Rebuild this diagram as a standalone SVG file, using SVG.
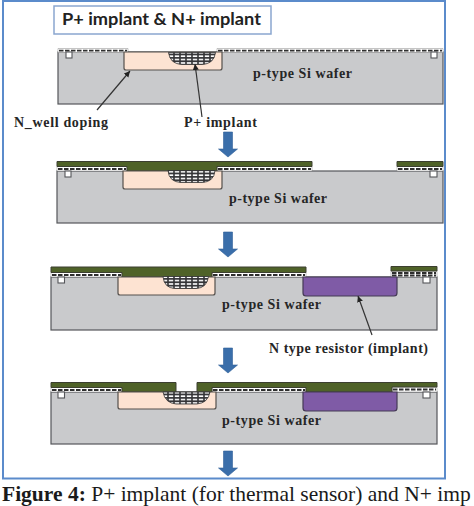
<svg xmlns="http://www.w3.org/2000/svg" width="474" height="506" viewBox="0 0 474 506">
<style>
.sub{fill:#c9cacc;stroke:#55565a;stroke-width:1.2}
.well{fill:#fde3d2;stroke:#55504c;stroke-width:1.2}
.res{fill:#7f5ba6;stroke:#453a55;stroke-width:1.2}
.ox{fill:#fff;stroke:#8a8a8a;stroke-width:.5}
.dash{fill:none;stroke:#2e2e2e;stroke-width:1.8;stroke-dasharray:4.500 1.500}
.gr{fill:#4f6228;stroke:#3c3f30;stroke-width:1}
.sq{fill:#fff;stroke:#55565a;stroke-width:1.1}
.pp{fill:url(#hatch);stroke:#333;stroke-width:.8}
.lb{font:bold 14px "Liberation Serif",serif;fill:#262626}
.big{fill:#3a6eaa;stroke:#2f5f98;stroke-width:.6}
.ln{stroke:#333;stroke-width:1.2;fill:none;marker-end:url(#ah)}
</style>
<defs>
<pattern id="hatch" width="6" height="3.4" patternUnits="userSpaceOnUse">
<rect width="6" height="3.4" fill="#333336"/>
<rect x=".8" y="1" width="4.4" height="1.6" fill="#fff"/>
</pattern>
<marker id="ah" markerWidth="7" markerHeight="7" refX="6" refY="3" orient="auto" markerUnits="userSpaceOnUse">
<path d="M0 0L6 3L0 6z" fill="#222"/>
</marker>
<path id="arr" d="M-4.500 0H4.500V17H9.500L0 25L-9.500 17H-4.500Z"/>
</defs>
<rect width="474" height="506" fill="#fff"/>
<rect id="frame" x="3" y="1" width="442" height="477.500" fill="#fff" stroke="#5b8bcb" stroke-width="2"/>

<g id="title">
<rect x="54" y="6" width="217" height="28" fill="#fff" stroke="#8aa6cf" stroke-width="1.500"/>
<text x="62" y="25" font-family="Lato,'Liberation Sans',sans-serif" font-size="17" font-weight="bold" fill="#222" textLength="199" lengthAdjust="spacingAndGlyphs">P+ implant &amp; N+ implant</text>
</g>

<g id="wafer1">
<rect class="sub" x="58" y="52" width="385" height="52"/>
<path d="M58 48.500H128V52.500H58ZM217 48.500H443V52.500H217Z" class="ox"/>
<path class="dash" d="M59 50.700H127M218 50.700H442"/>
<rect class="sq" x="66" y="52" width="6" height="6"/>
<rect class="sq" x="431" y="52" width="6" height="6"/>
<path class="well" d="M124 52H222V68Q222 70 220 70H126Q124 70 124 68Z"/>
<path class="pp" d="M168.500 52.500H215.500Q214 64 202 64.500H182Q170 64 168.500 52.500Z"/>
<text class="lb" x="253" y="78" textLength="99">p-type Si wafer</text>
</g>

<g id="wafer2">
<rect class="sub" x="57" y="171" width="386" height="52"/>
<path class="ox" d="M57 166.500H127V171H57ZM217 166.500H312V171H217ZM397 166.500H443V171H397Z"/>
<path class="dash" d="M58 169H126M218 169H311M398 169H442"/>
<path class="gr" d="M57 161.500H312V166.500H217V171H127V166.500H57Z"/>
<path class="gr" d="M397 161.500H443V166.500H397Z"/>
<rect class="sq" x="65" y="171" width="6" height="6"/>
<rect class="sq" x="430" y="171" width="7" height="6"/>
<path class="well" d="M123 171H222V187Q222 189 220 189H125Q123 189 123 187Z"/>
<path class="pp" d="M168 170.500H215Q214 182 202 182.500H181Q169 182 168 170.500Z"/>
<text class="lb" x="229" y="203" textLength="98">p-type Si wafer</text>
</g>

<g id="wafer3">
<rect class="sub" x="51" y="277" width="386" height="53"/>
<path class="ox" d="M51 272.500H122V277H51ZM212 272.500H306V277H212ZM391 271H437V277H391Z"/>
<path class="dash" d="M52 275H121M213 275H305M392 273H436M392 275.500H436"/>
<path class="gr" d="M51 267H306V272.500H212V277H122V272.500H51Z"/>
<path class="gr" d="M391 266.500H437V271H391Z"/>
<rect class="sq" x="58" y="277" width="6.500" height="6"/>
<rect class="sq" x="423" y="277" width="7" height="6"/>
<path class="well" d="M118 277H215V293Q215 295 213 295H120Q118 295 118 293Z"/>
<path class="pp" d="M163 276.500H208.500Q207 288 196 288.500H175Q164 288 163 276.500Z"/>
<path class="res" d="M303 277H397V293Q397 296 394 296H306Q303 296 303 293Z"/>
<text class="lb" x="222" y="309" textLength="99">p-type Si wafer</text>
</g>

<g id="wafer4">
<rect class="sub" x="51" y="392" width="386" height="52"/>
<path class="ox" d="M51 387.500H122V392H51ZM212 387.500H306V392H212ZM392 387H437V392H392Z"/>
<path class="dash" d="M52 390H121M213 390H305M393 389.500H436"/>
<path class="gr" d="M51 382.500H176V392H122V387.500H51Z"/>
<path class="gr" d="M197 382.500H437V387H392V392H306V387.500H212V392H197Z"/>
<rect class="sq" x="58" y="392" width="6.500" height="6"/>
<rect class="sq" x="423" y="392" width="7" height="6"/>
<path class="well" d="M118 392H216V407Q216 409 214 409H120Q118 409 118 407Z"/>
<path class="pp" d="M163 392H210Q208 403 197 404H176Q165 403 163 392Z"/>
<path class="res" d="M303 392H397V408Q397 411 394 411H306Q303 411 303 408Z"/>
<text class="lb" x="222" y="425" textLength="99">p-type Si wafer</text>
</g>

<g id="connectors">
<path class="ln" d="M97 110L130 71"/>
<path class="ln" d="M202 117L195 64"/>
<path class="ln" d="M372 335L358 296"/>
<use href="#arr" class="big" x="228" y="132"/>
<use href="#arr" class="big" x="228" y="232"/>
<use href="#arr" class="big" x="228" y="348"/>
<use href="#arr" class="big" x="228" y="451"/>
</g>

<g id="labels">
<text class="lb" x="14" y="127" textLength="94">N_well doping</text>
<text class="lb" x="184" y="127" textLength="73">P+ implant</text>
<text class="lb" x="269" y="353" textLength="159">N type resistor (implant)</text>
</g>

<text id="caption" x="2" y="501" font-family="'Liberation Serif',serif" font-size="21.500" fill="#1a1a1a"><tspan font-weight="bold">Figure 4:</tspan> P+ implant (for thermal sensor) and N+ imp</text>
</svg>
